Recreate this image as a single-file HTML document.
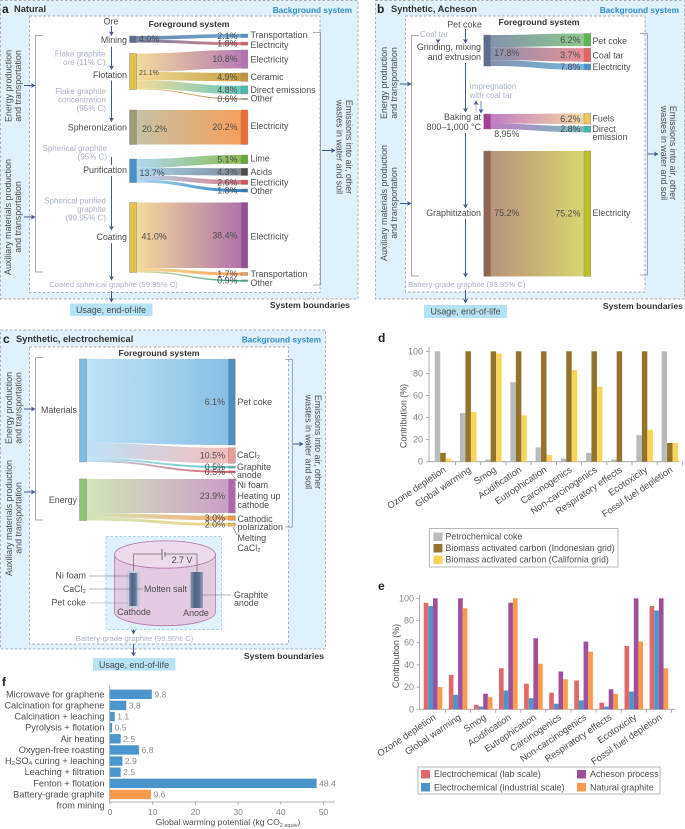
<!DOCTYPE html>
<html lang="en">
<head>
<meta charset="utf-8">
<title>Graphite life cycle assessment</title>
<style>
html,body{margin:0;padding:0;background:#fff;width:685px;height:829px;overflow:hidden}
svg{display:block}
text{font-family:"Liberation Sans",sans-serif;font-size:8.9px;fill:#4d4d4d}
.b{font-weight:bold;fill:#333;font-size:8.7px}
.letter{font-weight:bold;font-size:12px;fill:#222}
.title{font-weight:bold;font-size:9.3px;fill:#333}
.bg{font-size:8.3px;fill:#2f8fc8;text-anchor:end;font-weight:bold;stroke:none}
.e{text-anchor:end}
.m{text-anchor:middle}
.g{fill:#aab0c8;font-size:8px}
.g2{fill:#aab0c8;font-size:7.7px}
.l1{font-size:8.8px}
.l2{font-size:8.95px}
.xt{font-size:8.6px}
.panel{fill:#e1f1fb;stroke:#8d949c;stroke-width:.7;stroke-dasharray:2.6 2}
.fore{fill:#fff;stroke:#8d949c;stroke-width:.7;stroke-dasharray:2.6 2}
.br{fill:none;stroke:#8f959d;stroke-width:.8}
.ar{stroke:#3f5a8a;stroke-width:1;fill:none}
.hd{fill:#3f5a8a;stroke:none}
.usage{fill:#b6e2f6}
.leg{fill:#fff;stroke:#a5a5a5;stroke-width:.8}
.cl{stroke:#6d6d6d;stroke-width:.6;fill:none}
</style>
</head>
<body>
<svg id="fig" xmlns="http://www.w3.org/2000/svg" width="685" height="829" viewBox="0 0 685 829">
<defs>
<marker id="arrowhead" markerWidth="5" markerHeight="5" refX="4" refY="2.5" orient="auto" markerUnits="userSpaceOnUse"><path class="hd" d="M0 0L4.5 2.5L0 5L1 2.5Z"/></marker>
<linearGradient id="electrodeGrad" x1="0" x2="1" y1="0" y2="0"><stop offset="0" stop-color="#8b98b0"/><stop offset=".35" stop-color="#4e6184"/><stop offset=".7" stop-color="#5f7190"/><stop offset="1" stop-color="#97a3b8"/></linearGradient>
</defs>

<!-- PANEL A -->
<g>
<rect class="panel" x="0.5" y="0.5" width="357.5" height="298.5"/>
<rect class="fore" x="29.5" y="16" width="290.5" height="276.5"/>
<text class="letter" x="2" y="13">a</text>
<text class="title" x="14" y="12">Natural</text>
<text class="bg" x="352" y="13">Background system</text>
<text class="b m" x="189" y="27">Foreground system</text>
<path class="br" d="M43 35.5H35.5V272H43"/>
<path class="br" d="M313 32.5H320.5V285H313"/>
<text class="m" transform="translate(11.5 86) rotate(-90)">Energy production</text>
<text class="m" transform="translate(21 86) rotate(-90)">and transportation</text>
<text class="m" transform="translate(11 217) rotate(-90)">Auxiliary materials production</text>
<text class="m" transform="translate(21 217) rotate(-90)">and transportation</text>
<text class="m" transform="translate(346 147) rotate(90)">Emissions into air, other</text>
<text class="m" transform="translate(336.500 147) rotate(90)">wastes in water and soil</text>
<g>
<path class="ar" marker-end="url(#arrowhead)" d="M111.500 26V35.500"/>
<path class="ar" marker-end="url(#arrowhead)" d="M111.500 46.500V69.500"/>
<path class="ar" marker-end="url(#arrowhead)" d="M111.500 80.500V121.500"/>
<path class="ar" d="M111.500 157V165"/>
<path class="ar" marker-end="url(#arrowhead)" d="M111.500 176V230"/>
<path class="ar" marker-end="url(#arrowhead)" d="M111.500 243V280"/>
<path class="ar" marker-end="url(#arrowhead)" d="M111.500 291V302"/>
<path class="ar" marker-end="url(#arrowhead)" d="M24 85.500H35"/>
<path class="ar" marker-end="url(#arrowhead)" d="M24 217H35"/>
<path class="ar" marker-end="url(#arrowhead)" d="M322 150.500H335"/>
</g>
<text class="m" x="111" y="24.500">Ore</text>
<text class="e" x="127" y="43">Mining</text>
<text class="e" x="127" y="78">Flotation</text>
<text class="e" x="127" y="130.500">Spheronization</text>
<text class="e" x="127" y="173">Purification</text>
<text class="e" x="127" y="240">Coating</text>
<text class="g e" x="105.500" y="56.500">Flake graphite</text>
<text class="g e" x="105.500" y="65">ore (11% C)</text>
<text class="g e" x="106" y="94">Flake graphite</text>
<text class="g e" x="106" y="102.500">concentration</text>
<text class="g e" x="106" y="111">(95% C)</text>
<text class="g e" x="107" y="151">Spherical graphite</text>
<text class="g e" x="107" y="159.500">(95% C)</text>
<text class="g e" x="106" y="203.500">Spherical purified</text>
<text class="g e" x="106" y="212">graphite</text>
<text class="g e" x="106" y="220.500">(99.95% C)</text>
<text class="g2 m" x="113.500" y="287">Coated spherical graphite (99.95% C)</text>
<text x="250.500" y="38">Transportation</text>
<text x="250.500" y="48">Electricity</text>
<text x="250.500" y="62.500">Electricity</text>
<text x="250.500" y="80">Ceramic</text>
<text x="250.500" y="93">Direct emissions</text>
<text x="250.500" y="101.500">Other</text>
<text x="250.500" y="129">Electricity</text>
<text x="250.500" y="161.500">Lime</text>
<text x="250.500" y="175">Acids</text>
<text x="250.500" y="185.500">Electricity</text>
<text x="250.500" y="194">Other</text>
<text x="250.500" y="239.500">Electricity</text>
<text x="250.500" y="277">Transportation</text>
<text x="250.500" y="286">Other</text>
<rect class="usage" x="70" y="303.500" width="82.500" height="12.500"/>
<text class="m" x="111" y="313">Usage, end-of-life</text>
<text class="b e" x="350" y="308">System boundaries</text>
</g>

<!-- PANEL B -->
<g>
<rect class="panel" x="375.500" y="0.500" width="309" height="298.500"/>
<rect class="fore" x="405.500" y="16" width="239.500" height="276"/>
<text class="letter" x="377" y="13">b</text>
<text class="title" x="391" y="12">Synthetic, Acheson</text>
<text class="bg" x="679" y="13">Background system</text>
<text class="b m" x="539" y="25">Foreground system</text>
<path class="br" d="M419 35.500H411.500V276H419"/>
<path class="br" d="M640 33.500H647.500V275H640"/>
<text class="m" transform="translate(387 83) rotate(-90)">Energy production</text>
<text class="m" transform="translate(397 83) rotate(-90)">and transportation</text>
<text class="m" transform="translate(387 203) rotate(-90)">Auxiliary materials production</text>
<text class="m" transform="translate(397 203) rotate(-90)">and transportation</text>
<text class="m" transform="translate(670 153) rotate(90)">Emissions into air, other</text>
<text class="m" transform="translate(661 153) rotate(90)">wastes in water and soil</text>
<g>
<path class="ar" marker-end="url(#arrowhead)" d="M465.500 29V43"/>
<path class="ar" marker-end="url(#arrowhead)" d="M465.500 63V112"/>
<path class="ar" marker-end="url(#arrowhead)" d="M465.500 133V208"/>
<path class="ar" marker-end="url(#arrowhead)" d="M465.500 219V277"/>
<path class="ar" marker-end="url(#arrowhead)" d="M465.500 290V303"/>
<path class="ar" marker-end="url(#arrowhead)" d="M400 84H411"/>
<path class="ar" marker-end="url(#arrowhead)" d="M400 203.500H411"/>
<path class="ar" marker-end="url(#arrowhead)" d="M647.500 154H658"/>
<path class="ar" style="stroke:#8fa3c8;stroke-width:.7" marker-end="url(#arrowhead)" d="M438 38V43"/>
<path class="ar" style="stroke:#8fa3c8;stroke-width:.7" marker-end="url(#arrowhead)" d="M476 113V101"/>
<path class="ar" style="stroke:#3f5a8a;stroke-width:.7" marker-end="url(#arrowhead)" d="M481 101V113"/>
</g>
<text class="m" x="464.500" y="27.500">Pet coke</text>
<text class="g m" x="434" y="37">Coal tar</text>
<text class="e" x="481" y="50">Grinding, mixing</text>
<text class="e" x="481" y="60">and extrusion</text>
<text class="g" x="469.500" y="89">Impregnation</text>
<text class="g" x="469.500" y="98">with coal tar</text>
<text class="e" x="481" y="120">Baking at</text>
<text class="e" x="481" y="130">800–1,000 °C</text>
<text class="e" x="481" y="216">Graphitization</text>
<text x="592.500" y="44">Pet coke</text>
<text x="592.500" y="58.500">Coal tar</text>
<text x="592.500" y="70">Electricity</text>
<text x="592.500" y="121.500">Fuels</text>
<text x="592.500" y="132">Direct</text>
<text x="592.500" y="140">emission</text>
<text x="592.500" y="216">Electricity</text>
<text class="g2" x="408" y="287">Battery-grade graphite (99.95% C)</text>
<rect class="usage" x="424" y="305" width="83" height="13"/>
<text class="m" x="465.500" y="314.500">Usage, end-of-life</text>
<text class="b e" x="683" y="309">System boundaries</text>
</g>

<!-- PANEL C -->
<g>
<rect class="panel" x="0.500" y="330" width="325" height="319"/>
<rect class="fore" x="29.500" y="347" width="259" height="297"/>
<text class="letter" x="3" y="343">c</text>
<text class="title" x="16" y="342">Synthetic, electrochemical</text>
<text class="bg" x="321" y="342.500">Background system</text>
<text class="b m" x="159" y="356">Foreground system</text>
<path class="br" d="M43 357.500H35.500V520H43"/>
<path class="br" d="M285 359.500H292.500V527H285"/>
<text class="m" transform="translate(12 408) rotate(-90)">Energy production</text>
<text class="m" transform="translate(21.500 408) rotate(-90)">and transportation</text>
<text class="m" transform="translate(12 518) rotate(-90)">Auxiliary materials production</text>
<text class="m" transform="translate(21.500 518) rotate(-90)">and transportation</text>
<text class="m" transform="translate(315 442) rotate(90)">Emissions into air, other</text>
<text class="m" transform="translate(305.500 442) rotate(90)">wastes in water and soil</text>
<g>
<path class="ar" marker-end="url(#arrowhead)" d="M24 409H35"/>
<path class="ar" marker-end="url(#arrowhead)" d="M24 492H35"/>
<path class="ar" marker-end="url(#arrowhead)" d="M293 444H303"/>
<path class="ar" marker-end="url(#arrowhead)" d="M133.500 618V634"/>
<path class="ar" marker-end="url(#arrowhead)" d="M133.500 644V656"/>
</g>
<text class="e" x="77" y="413">Materials</text>
<text class="e" x="77" y="503">Energy</text>
<text x="237.500" y="405">Pet coke</text>
<text x="237" y="458">CaCl₂</text>
<text x="237" y="470">Graphite</text>
<text x="237" y="478">anode</text>
<text x="237.500" y="488">Ni foam</text>
<text x="237.500" y="499">Heating up</text>
<text x="237.500" y="508">cathode</text>
<text x="237.500" y="522">Cathodic</text>
<text x="237.500" y="530">polarization</text>
<text x="237.500" y="541">Melting</text>
<text x="237.500" y="551">CaCl₂</text>
<path class="cl" d="M231 473L237 481"/>
<path class="cl" d="M233 527L237 535"/>

<g>
<rect x="106" y="536.500" width="115.500" height="93" fill="#e1f1fb" stroke="#8fc3e4" stroke-width=".7" stroke-dasharray="2.500 2"/>
<path d="M114.500 554.500V612A50.500 13.700 0 0 0 215.500 612V554.500Z" fill="#e3cbe1" stroke="#b57cb0" stroke-width=".8"/>
<ellipse cx="165" cy="554.500" rx="50.500" ry="13.700" fill="#ecdbea" stroke="#b57cb0" stroke-width=".8"/>
<path d="M133.500 572V554H162M165 554H197V572" fill="none" stroke="#6d6d6d" stroke-width=".7"/>
<path d="M162 549V560M165 552V557" fill="none" stroke="#555" stroke-width=".8"/>
<text class="m" x="182" y="563">2.7 V</text>
<rect x="126.500" y="571" width="13.500" height="36.500" fill="#c4cbdd"/>
<rect x="129" y="573" width="8.500" height="33" fill="url(#electrodeGrad)"/>
<rect x="190.500" y="572" width="12.500" height="36" fill="url(#electrodeGrad)"/>
<path class="cl" d="M89 576H129"/>
<path class="cl" d="M89 589H143"/>
<path class="cl" style="stroke:#999" d="M89 603H128"/>
<path class="cl" d="M199 595H231"/>
<text class="e" x="86" y="578.500">Ni foam</text>
<text class="e" x="86" y="592">CaCl₂</text>
<text class="e" x="86" y="605.500">Pet coke</text>
<text x="144" y="592">Molten salt</text>
<text class="m" x="134" y="615">Cathode</text>
<text class="m" x="196" y="616">Anode</text>
<text x="234" y="598">Graphite</text>
<text x="234" y="606">anode</text>
</g>
<text class="g2 m" x="134.500" y="641">Battery-grade graphite (99.95% C)</text>
<rect class="usage" x="93" y="658" width="82.500" height="12.500"/>
<text class="m" x="134" y="668">Usage, end-of-life</text>
<text class="b e" x="324" y="659">System boundaries</text>
</g>

<!-- LEGENDS AND AXIS TITLES -->
<g id="panelD">
<text class="letter" x="378" y="342">d</text>
<text class="m" transform="translate(406.500 416) rotate(-90)">Contribution (%)</text>
<rect class="leg" x="429.500" y="528.500" width="188.500" height="38.500"/>
<g><rect x="433.500" y="532.500" width="9" height="8.500" fill="#b8bcbc"/><text class="l1" x="445.500" y="539.500">Petrochemical coke</text></g>
<g><rect x="433.500" y="544" width="9" height="8.500" fill="#93742d"/><text class="l1" x="445.500" y="551">Biomass activated carbon (Indonesian grid)</text></g>
<g><rect x="433.500" y="555.500" width="9" height="8.500" fill="#fbd45c"/><text class="l1" x="445.500" y="562.500">Biomass activated carbon (California grid)</text></g>
</g>
<g id="panelE">
<text class="letter" x="378" y="590">e</text>
<text class="m" transform="translate(399 656) rotate(-90)">Contribution (%)</text>
<rect class="leg" x="418" y="767" width="242" height="27"/>
<g><rect x="421" y="770" width="9" height="8.500" fill="#e0686a"/><text class="l2" x="434" y="777">Electrochemical (lab scale)</text></g>
<g><rect x="421" y="783" width="9" height="8.500" fill="#4a96cc"/><text class="l2" x="434" y="790.500">Electrochemical (industrial scale)</text></g>
<g><rect x="577" y="770" width="9" height="8.500" fill="#a0509a"/><text class="l2" x="590" y="777">Acheson process</text></g>
<g><rect x="577" y="783" width="9" height="8.500" fill="#f99b4d"/><text class="l2" x="590" y="790.500">Natural graphite</text></g>
</g>
<g id="panelF">
<text class="letter" x="2" y="686">f</text>
<text class="m xt" x="228" y="825">Global warming potential (kg CO<tspan font-size="5.500" dy="2">2 equiv</tspan><tspan dy="-2">)</tspan></text>
</g>
</svg>

<script>
// ---------- Panel d data ----------
const impactCategories = ["Ozone depletion","Global warming","Smog","Acidification","Eutrophication","Carcinogenics","Non-carcinogenics","Respiratory effects","Ecotoxicity","Fossil fuel depletion"];
const dPetroCoke = [100,44,2,72,13,3,8,2,24,100];
const dBioIndonesia = [8,100,100,100,100,100,100,100,100,17];
const dBioCalifornia = [3,45,98,42,6,83,68,0,29,17];
const yTickValues = [0,20,40,60,80,100];

// ---------- Panel e data ----------
const eLabScale = [96,31,4,37,23,15,26,6,57,93];
const eIndustrial = [93,13,2.5,17,10,5,8,2.5,16,89];
const eAcheson = [100,100,14,96,64,34,61,18,100,100];
const eNatural = [20,91,11,100,41,27,52,14,61,37];

// ---------- Panel f data ----------
const fRoutes = ["Microwave for graphene","Calcination for graphene","Calcination + leaching","Pyrolysis + flotation","Air heating","Oxygen-free roasting","H₂SO₄ curing + leaching","Leaching + filtration","Fenton + flotation","Battery-grade graphite"];
const fValues = [9.8,3.8,1.1,0.5,2.5,6.8,2.9,2.5,48.4,9.6];
const fXTicks = [0,10,20,30,40,50];

// ---------- Sankey data: percentages per process ----------
const naturalMining = [2.1,1.8];
const naturalFlotation = [10.8,4.9,4.8,0.6];
const naturalSpheronization = [20.2];
const naturalPurification = [5.1,4.3,2.6,1.8];
const naturalCoating = [38.4,1.7,0.9];
// Acheson and electrochemical bands: drawn band weight differs from the printed share
const achesonGrindingBand = [7.5,8.1,3.6];
const achesonGrindingPrinted = ["6.2%","3.7%","7.8%"];
const achesonBakingBand = [6.3,3.6];
const achesonBakingPrinted = ["6.2%","2.8%"];
const achesonGraphitizationBand = [75.2];
const achesonGraphitizationPrinted = ["75.2%"];
const electroMaterialsBand = [86,15.5,2,2];
const electroMaterialsPrinted = ["6.1%","10.5%","0.5%","0.5%"];
const electroEnergyBand = [34,4.5,3];
const electroEnergyPrinted = ["23.9%","3.0%","2.0%"];

const NS = "http://www.w3.org/2000/svg";
const fig = document.getElementById("fig");
const defs = fig.querySelector("defs");
let gradCount = 0;

function node(tag, parent, attrs) {
  const el = document.createElementNS(NS, tag);
  for (const k in attrs) el.setAttribute(k, attrs[k]);
  parent.appendChild(el);
  return el;
}

function sankey(o) {
  const g = node("g", fig, {});
  
  
  const total = o.bands.reduce((a, b) => a + b, 0);
  const k = o.srcK || 1;
  const srcH = total * o.scale * k;
  let sy = o.srcY, ty = o.tgtY;
  o.bands.forEach((v, i) => {
    const h = v * o.scale;
    const sh = h * k;
    const id = "flowGrad" + (gradCount++);
    const lg = node("linearGradient", defs, {id: id, gradientUnits: "userSpaceOnUse", x1: o.x1, x2: o.x2, y1: 0, y2: 0});
    node("stop", lg, {offset: 0, "stop-color": o.flowFrom});
    node("stop", lg, {offset: 1, "stop-color": o.flowTo[i]});
    const mx = (o.x1 + o.x2) / 2;
    const flow = node("path", g, {
      d: `M${o.x1} ${sy}C${mx} ${sy} ${mx} ${ty} ${o.x2} ${ty}V${ty + h}C${mx} ${ty + h} ${mx} ${sy + sh} ${o.x1} ${sy + sh}Z`,
      fill: `url(#${id})`
    });
    
    
    const tn = node("rect", g, {x: o.x2, y: ty, width: 6.8, height: Math.max(h, 1), fill: o.tgtColors[i], stroke: "#8d8d8d", "stroke-width": 0.5});
    
    
    const label = o.printed ? o.printed[i] : v.toFixed(1) + "%";
    const lb = node("text", g, {x: o.x2 - 3.5, y: ty + h / 2 + 3, "text-anchor": "end"});
    lb.textContent = label;
    
    
    sy += sh;
    ty += h + o.gap;
  });
  const sn = node("rect", g, {x: o.x1 - 7, y: o.srcY, width: 7, height: srcH, fill: o.srcColor, stroke: "#8d8d8d", "stroke-width": 0.5});
  
  
  if (o.srcLabel) {
    const sl = node("text", g, {x: o.x1 + (o.srcLabelDx === undefined ? 3 : o.srcLabelDx), y: o.srcLabelY, style: "font-size:" + (o.srcLabelSize || 8.9) + "px"});
    sl.textContent = o.srcLabel;
    
    
  }
}

const naturalX = {x1: 136.5, x2: 241, scale: 1.707, gap: 4.5};
sankey({...naturalX, name: "mining", bands: naturalMining, srcY: 36, tgtY: 34, srcColor: "#5b6c8e", flowFrom: "#6f86a6", flowTo: ["#6ea8d8","#e07c84"], tgtColors: ["#4d90cb","#e05a66"], srcLabel: "4.0%", srcLabelDx: 2.5, srcLabelY: 42.2});
sankey({...naturalX, name: "flotation", bands: naturalFlotation, srcY: 53.5, tgtY: 50, srcColor: "#e6c254", flowFrom: "#f3dc9a", flowTo: ["#b87cb3","#c79f45","#69c8bf","#a47848"], tgtColors: ["#b472ae","#c0953a","#45bdb4","#a47848"], srcLabel: "21.1%", srcLabelDx: 2.5, srcLabelY: 75, srcLabelSize: 7});
sankey({...naturalX, name: "spheronization", bands: naturalSpheronization, srcY: 110, tgtY: 110, srcColor: "#9e9a75", flowFrom: "#c5c3a3", flowTo: ["#f69f5e"], tgtColors: ["#f26c2b"], srcLabel: "20.2%", srcLabelDx: 5.5, srcLabelY: 132});
sankey({...naturalX, name: "purification", bands: naturalPurification, srcY: 159, tgtY: 155, srcColor: "#4a90c9", flowFrom: "#aed8f2", flowTo: ["#8fbc52","#7c8794","#d8808a","#3184c2"], tgtColors: ["#66a83a","#4a4a4a","#e04a55","#2a78b8"], srcLabel: "13.7%", srcLabelDx: 3, srcLabelY: 176});
sankey({...naturalX, name: "coating", bands: naturalCoating, srcY: 202.5, tgtY: 202.5, srcColor: "#e6c254", flowFrom: "#f3dc9a", flowTo: ["#b173aa","#f9a45f","#30ab96"], tgtColors: ["#984f93","#f59a50","#2ea690"], srcLabel: "41.0%", srcLabelDx: 5, srcLabelY: 239.5});

const achesonX = {x1: 490.7, x2: 584, scale: 1.667, gap: 2.2};
sankey({...achesonX, name: "grinding", bands: achesonGrindingBand, printed: achesonGrindingPrinted, srcK: 0.97, srcY: 35, tgtY: 33.5, srcColor: "#5c6d8e", flowFrom: "#8593ab", flowTo: ["#8dc88a","#ea8f96","#76b5e2"], tgtColors: ["#5cb84e","#e06464","#4a90c9"], srcLabel: "17.8%", srcLabelDx: 3.5, srcLabelY: 56});
sankey({...achesonX, name: "baking", bands: achesonBakingBand, printed: achesonBakingPrinted, srcK: 0.91, srcY: 114, tgtY: 113.5, srcColor: "#a83e92", flowFrom: "#c07cc2", flowTo: ["#f3d9a2","#74bfc0"], tgtColors: ["#efc65c","#3dbab0"], srcLabel: "8.95%", srcLabelDx: 3.5, srcLabelY: 137});
sankey({...achesonX, name: "graphitization", bands: achesonGraphitizationBand, printed: achesonGraphitizationPrinted, srcY: 151, tgtY: 151, srcColor: "#8c6650", flowFrom: "#b8927c", flowTo: ["#d6d670"], tgtColors: ["#bcc022"], srcLabel: "75.2%", srcLabelDx: 3.5, srcLabelY: 216});

const electroX = {x1: 86.5, x2: 228.5, scale: 1, gap: 2.8};
sankey({...electroX, name: "materials", bands: electroMaterialsBand, printed: electroMaterialsPrinted, srcK: 0.976, srcY: 359, tgtY: 359, srcColor: "#7bbde6", flowFrom: "#bfe3f6", flowTo: ["#88c0e6","#f2bcbc","#5cc6c2","#d9606c"], tgtColors: ["#4a90c4","#ee9a9a","#44bdb8","#cf4f5e"]});
sankey({...electroX, name: "energy", bands: electroEnergyBand, printed: electroEnergyPrinted, srcY: 479, tgtY: 479, srcColor: "#8cc572", flowFrom: "#d2e6b8", flowTo: ["#c9a0c8","#f3b078","#eed184"], tgtColors: ["#ac6aa8","#f39a3f","#eac25c"]});

// ---------- Axis functions ----------
const dY = v => 461.7 - v * 1.104;
const dGroupX = i => 443 + i * 25.2;
const eY = v => 709.3 - v * 1.11;
const eGroupX = i => 433 + i * 25.1;
const fX = v => 110 + v * 4.27;
const fRow = i => 694.3 + i * 11.13;

function axisLine(parent, name, d) {
  const p = node("path", parent, {d: d, stroke: "#9a9a9a", "stroke-width": 0.8, fill: "none"});
  
  
}

function groupedChart(panelId, prefix, series, colors, seriesNames, groupX, yFn, barW, axisX, axisRight, axisTop, labelX, tickOffset) {
  const parent = document.getElementById(panelId);
  axisLine(parent, prefix + '-y-axis', `M${axisX} ${axisTop}V${yFn(0)}`);
  axisLine(parent, prefix + '-x-axis', `M${axisX} ${yFn(0)}H${axisRight}`);
  yTickValues.forEach(t => {
    axisLine(parent, prefix + '-y-tick-' + t, `M${axisX - 3} ${yFn(t)}H${axisX}`);
    const lb = node("text", parent, {x: labelX, y: yFn(t) + 3, "text-anchor": "end", style: "fill:#858585;font-size:9px"});
    lb.textContent = t;
    
    
  });
  const n = series.length;
  impactCategories.forEach((cat, i) => {
    const cx = groupX(i);
    series.forEach((vals, s) => {
      const x = cx + (s - n / 2) * barW;
      const r = node("rect", parent, {x: x, y: yFn(vals[i]), width: barW, height: yFn(0) - yFn(vals[i]), fill: colors[s]});
      
      
    });
    axisLine(parent, prefix + '-x-tick-' + i, `M${cx + tickOffset} ${yFn(0)}v3.5`);
    const lb = node("text", parent, {"text-anchor": "end", style: "font-size:9.4px", transform: `translate(${cx + 3.5} ${yFn(0) + 9.5}) rotate(-34)`});
    lb.textContent = cat;
    
    
  });
}

groupedChart("panelD", "d", [dPetroCoke, dBioIndonesia, dBioCalifornia], ["#b8bcbc","#93742d","#fbd45c"], ["petro-coke","bio-indonesia","bio-california"], dGroupX, dY, 5.5, 429, 679, 347, 423, 12.6);
groupedChart("panelE", "e", [eLabScale, eIndustrial, eAcheson, eNatural], ["#e0686a","#4a96cc","#a0509a","#f99b4d"], ["lab-scale","industrial","acheson","natural"], eGroupX, eY, 4.65, 419.5, 675, 595, 414, 12.5);

// ---------- Panel f ----------
(function () {
  const parent = document.getElementById("panelF");
  fValues.forEach((v, i) => {
    const r = node("rect", parent, {x: fX(0), y: fRow(i) - 4.7, width: fX(v) - fX(0), height: 9.4, fill: i === fValues.length - 1 ? "#f99b4d" : "#4a96cc"});
    
    
    const val = node("text", parent, {x: fX(v) + 2.5, y: fRow(i) + 3, style: "fill:#8a8a8a;font-size:8.6px"});
    val.textContent = v;
    
    
    const lb = node("text", parent, {x: 104.5, y: fRow(i) + 3, "text-anchor": "end", style: "font-size:9.2px"});
    lb.textContent = fRoutes[i];
    
    
  });
  const extra = node("text", parent, {x: 104.5, y: fRow(fValues.length) + 3, "text-anchor": "end", style: "font-size:9.2px"});
  extra.textContent = "from mining";
  
  
  axisLine(parent, 'f-y-axis', `M109.7 685V802`);
  axisLine(parent, 'f-x-axis', `M109.7 802H335`);
  fXTicks.forEach(t => {
    axisLine(parent, 'f-x-tick-' + t, `M${fX(t)} 802v2.5`);
    const lb = node("text", parent, {x: fX(t), y: 815, "text-anchor": "middle", style: "fill:#858585;font-size:8.6px"});
    lb.textContent = t;
    
    
  });
})();
</script>
</body>
</html>
